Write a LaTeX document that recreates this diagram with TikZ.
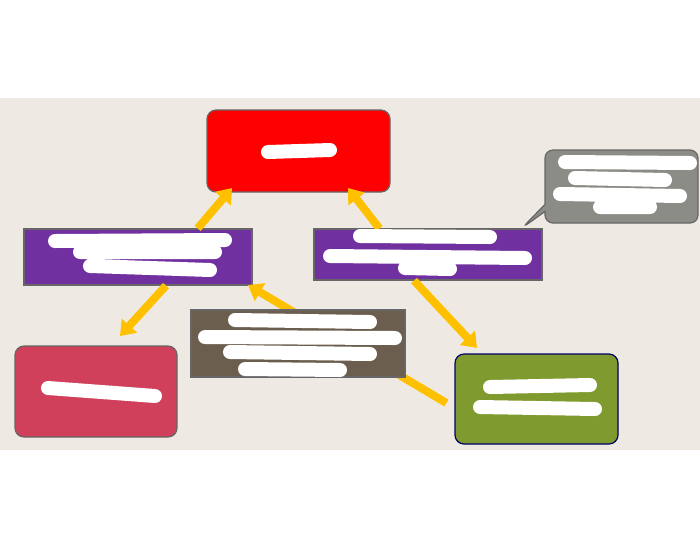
\documentclass[tikz,border=0pt]{standalone}
\usetikzlibrary{arrows.meta,shapes.callouts}
\definecolor{paper}{HTML}{EEEAE3}
\definecolor{redbox}{HTML}{FF0000}
\definecolor{purplebox}{HTML}{7030A0}
\definecolor{graybox}{HTML}{8C8C87}
\definecolor{brownbox}{HTML}{6B5E4E}
\definecolor{crimsonbox}{HTML}{D0405A}
\definecolor{greenbox}{HTML}{7F9A2E}
\definecolor{arrowfill}{HTML}{FFC000}
\tikzset{
  box/.style={draw=gray!80!black, line width=1.2pt, inner sep=0pt},
  fatarrow/.style={draw=arrowfill, line width=8pt,
    -{Triangle[width=20pt,length=14pt]}},
  scribble/.style={draw=white, line width=14pt, line cap=round},
}
\begin{document}
\begin{tikzpicture}[x=1pt,y=-1pt]
\useasboundingbox (0,0) rectangle (700,550);
\fill[paper] (0,98) rectangle (700,450);

% boxes
\node[box, fill=redbox, rounded corners=9pt, minimum width=183pt, minimum height=82pt] (top) at (298.5,151) {};
\node[box, fill=purplebox, minimum width=228pt, minimum height=56pt] (pleft) at (138,257) {};
\node[box, fill=purplebox, minimum width=228pt, minimum height=51pt] (pright) at (428,254.5) {};
\node[box, fill=crimsonbox, rounded corners=9pt, minimum width=162pt, minimum height=91pt] (bleft) at (96,391.5) {};
\node[box, draw=blue!40!black, fill=greenbox, rounded corners=9pt, minimum width=163pt, minimum height=90pt] (bright) at (536.5,399) {};
\node[box, fill=graybox, rounded corners=8pt, shape=rectangle callout, callout absolute pointer={(522,228)},
  minimum width=153pt, minimum height=73pt] (note) at (621.5,186.5) {};

% arrows
\draw[fatarrow] (bright.west) ++(-8,4) -- (248,285);
\node[box, fill=brownbox, minimum width=214pt, minimum height=67pt] (mid) at (298,343.5) {};
\draw[fatarrow] (pleft.north east) ++(-55,0) -- (232,188);
\draw[fatarrow] (pleft.south) ++(28,0) -- (120,336);
\draw[fatarrow] (pright.north west) ++(66,0) -- (348,188);
\draw[fatarrow] (pright.south) ++(-14,0) -- (477,348);

% scribbles
\draw[scribble] (268,152) -- (330,150);
\draw[scribble] (55,241) -- (225,240) (80,252) -- (215,252) (90,266) -- (210,270);
\draw[scribble] (360,236) -- (490,237) (330,256) -- (525,258) (405,268) -- (450,269);
\draw[scribble] (565,162) -- (690,163) (575,178) -- (665,180) (560,194) -- (680,196) (600,207) -- (650,207);
\draw[scribble] (235,320) -- (370,322) (205,337) -- (395,338) (230,352) -- (370,354) (245,369) -- (340,370);
\draw[scribble] (48,388) -- (155,396);
\draw[scribble] (490,387) -- (590,385) (480,407) -- (595,409);
\end{tikzpicture}
\end{document}
